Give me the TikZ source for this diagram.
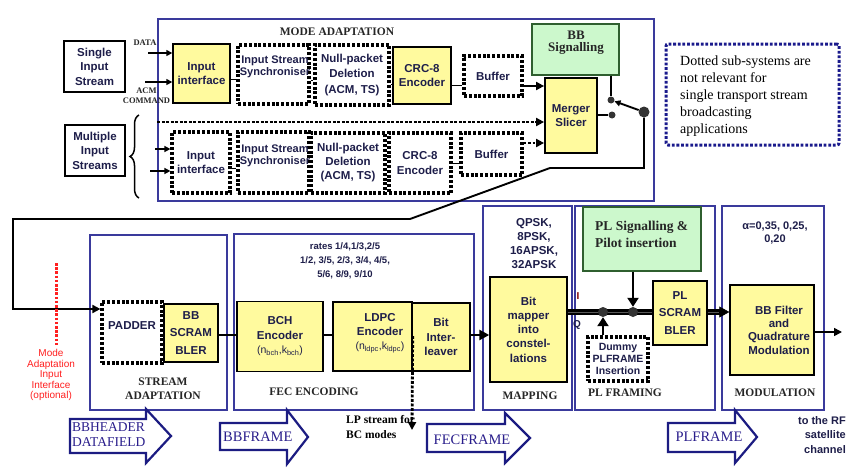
\documentclass[tikz,border=0pt]{standalone}
\usepackage{fontspec}
\setmainfont{Liberation Serif}
\setsansfont{Liberation Sans}
\usetikzlibrary{arrows.meta,decorations.pathreplacing,calc}
\definecolor{frameblue}{HTML}{3A3A9C}
\definecolor{arrblue}{HTML}{1C1C82}
\definecolor{arrtxt}{HTML}{2A1E8C}
\definecolor{boxyel}{HTML}{FFFA9E}
\definecolor{boxgrn}{HTML}{CCF8CC}
\definecolor{grnline}{HTML}{2F5F2F}
\definecolor{lbltxt}{HTML}{1E1E4A}
\definecolor{redtxt}{HTML}{FF2020}
\definecolor{notecol}{HTML}{1A1A8C}
\newcommand{\fsz}[2]{\fontsize{#1}{#2}\selectfont}
\tikzset{
 frm/.style={draw=frameblue, line width=1.2pt, rectangle, inner sep=0pt},
 sbox/.style={rectangle, inner sep=0pt, align=center, font=\sffamily\bfseries\fsz{11.5}{14.5}, text=lbltxt},
 ybox/.style={sbox, draw=black, line width=1.4pt, fill=boxyel},
 wbox/.style={sbox, draw=black, line width=1.6pt, fill=white},
 dbox/.style={sbox, draw=black, line width=3.2pt, dash pattern=on 3pt off 1.8pt},
 gbox/.style={rectangle, inner sep=0pt, draw=grnline, line width=1.4pt, fill=boxgrn},
 slbl/.style={inner sep=0pt, align=center, font=\sffamily\bfseries\fsz{11.5}{14.5}, text=lbltxt},
 ttl/.style={inner sep=0pt, align=center, font=\bfseries\fsz{11.5}{14}, text=black!85},
 conn/.style={line width=1.9pt},
 thinc/.style={line width=1pt},
 arrtip/.style={-{Triangle[length=8pt,width=8pt]}},
 smalltip/.style={-{Triangle[length=6pt,width=6pt]}},
 dotl/.style={line width=2.8pt, dash pattern=on 2.8pt off 1.7pt},
 dotc/.style={circle, fill=black!80, inner sep=0pt, minimum size=#1},
 iq/.style={line width=2.2pt, double=black!65, double distance=0.8pt},
 bigarr/.style={draw=arrblue, line width=2.2pt, fill=white, line join=miter},
 arrlbl/.style={inner sep=0pt, align=left, font=\fsz{14.5}{15}, text=arrtxt},
}
\begin{document}
\begin{tikzpicture}[x=1pt,y=-1pt]
\useasboundingbox (0,0) rectangle (865,474);
\fill[white] (0,0) rectangle (865,474);

% ---------------- MODE ADAPTATION ----------------
\node[frm, minimum width=496pt, minimum height=182pt] (ma) at (406,110) {};
\node[ttl] (matl) at (337,32) {MODE ADAPTATION};

\node[wbox, minimum width=61pt, minimum height=51pt] (sis) at (94.5,66.5) {Single\\Input\\Stream};
\node[wbox, minimum width=60pt, minimum height=51pt] (mis) at (95,150.5) {Multiple\\Input\\Streams};

\node[ybox, minimum width=57pt, minimum height=59pt] (ii1) at (201.5,73.5) {Input\\interface};
\node[dbox, minimum width=71pt, minimum height=59pt] (iss1) at (273.5,74.5) {};
\node[slbl, font=\sffamily\bfseries\fsz{11}{12.5}] (iss1t) at (275,67) {Input Stream\\Synchroniser};
\node[dbox, minimum width=74pt, minimum height=60pt, font=\sffamily\bfseries\fsz{11.5}{15.5}] (np1) at (352,75) {Null-packet\\Deletion\\(ACM, TS)};
\node[ybox, minimum width=58pt, minimum height=57pt] (crc1) at (422,75.5) {CRC-8\\Encoder};
\node[dbox, minimum width=58pt, minimum height=40pt] (buf1) at (493,76) {Buffer};
\node[gbox, minimum width=87pt, minimum height=51pt] (bbs) at (575.5,49.5) {};
\node[ttl, font=\bfseries\fsz{13}{12}] (bbst) at (576,43) {BB\\Signalling};
\node[ybox, line width=1.8pt, minimum width=52pt, minimum height=75pt] (ms) at (571,115.5) {Merger\\Slicer};

\node[dbox, minimum width=58pt, minimum height=61pt] (ii2) at (201,162.5) {Input\\interface};
\node[dbox, minimum width=71pt, minimum height=61pt] (iss2) at (273.5,162.5) {};
\node[slbl, font=\sffamily\bfseries\fsz{11}{12.5}] (iss2t) at (275,156) {Input Stream\\Synchroniser};
\node[dbox, minimum width=74pt, minimum height=60pt, font=\sffamily\bfseries\fsz{11.5}{14}] (np2) at (348,163) {Null-packet\\Deletion\\(ACM, TS)};
\node[dbox, minimum width=62pt, minimum height=60pt] (crc2) at (420,163) {CRC-8\\Encoder};
\node[dbox, minimum width=61pt, minimum height=42pt] (buf2) at (491.5,154) {Buffer};

% switch
\node[dotc=7pt] (c1) at (611,100) {};
\node[dotc=7pt] (c2) at (612,115) {};
\node[dotc=11pt] (piv) at (644,112) {};
\draw[conn] (bbs.south -| c1) -- (c1);
\draw[conn] (ms.east |- c2) -- (c2);
\draw[conn, smalltip] (piv) -- (c1);

% inputs
\coordinate (dat) at (148,53);
\coordinate (acm) at (145,82);
\draw[conn, smalltip] (dat) -- (ii1.west |- dat);
\draw[conn, smalltip] (acm) -- (ii1.west |- acm);
\node[ttl, font=\bfseries\fsz{8.5}{9.5}] (datal) at (145,43) {DATA};
\node[ttl, font=\bfseries\fsz{8.5}{10}] (acml) at (146.5,96) {ACM\\COMMAND};
\coordinate (m1) at (155,149);
\coordinate (m2) at (150,171);
\draw[conn, smalltip] (m1) -- (ii2.west |- m1);
\draw[conn, smalltip] (m2) -- (ii2.west |- m2);
\draw[decorate, decoration={brace, amplitude=9pt}, line width=1.5pt] (139,198) -- (139,115);

% internal links
\draw[thinc] (ii1.east |- 0,79) -- (iss1.west |- 0,79);
\draw[thinc] (iss1.east |- 0,80) -- (np1.west |- 0,80);
\draw[thinc] (np1.east |- 0,84) -- (crc1.west |- 0,84);
\draw[thinc] (crc1.east |- 0,85) -- (buf1.west |- 0,85);
\draw[conn, arrtip] (buf1.east |- 0,86) -- (ms.west |- 0,86);
\draw[dotl, arrtip] (ma.west |- 0,122) -- (ms.west |- 0,122);
\draw[dotl, arrtip] (buf2.east |- 0,143) -- (ms.west |- 0,143);
\draw[thinc] (ii2.east |- 0,168) -- (iss2.west |- 0,168);
\draw[thinc] (iss2.east |- 0,166) -- (np2.west |- 0,166);
\draw[thinc] (np2.east |- 0,165) -- (crc2.west |- 0,165);
\draw[thinc] (crc2.east |- 0,163) -- (buf2.west |- 0,163);

% note
\node[draw=notecol, line width=3pt, dash pattern=on 2.8pt off 1.8pt, rounded corners=2pt, minimum width=173pt, minimum height=101pt, inner sep=0pt] (note) at (752.5,94.5) {};
\node[inner sep=0pt, align=left, anchor=west, font=\fsz{14}{17}] (notet) at (680,96) {Dotted sub-systems are\\not relevant for\\single transport stream\\broadcasting\\applications};

% ---------------- LOWER CHAIN ----------------
\node[frm, minimum width=137pt, minimum height=175pt] (sa) at (158.5,322.5) {};
\node[frm, minimum width=240pt, minimum height=176pt] (fec) at (354,322) {};
\node[frm, minimum width=89pt, minimum height=204pt] (mapf) at (527.5,308) {};
\node[frm, minimum width=140pt, minimum height=204pt] (plf) at (645,308) {};
\node[frm, minimum width=102pt, minimum height=204pt] (modf) at (773,308) {};

\node[ttl] (sat) at (163,389) {STREAM\\ADAPTATION};
\node[ttl] (fect) at (314,392) {FEC ENCODING};
\node[ttl] (mapt) at (530,396) {MAPPING};
\node[ttl] (plft) at (625,393) {PL FRAMING};
\node[ttl] (modt) at (775,393) {MODULATION};

\node[dbox, minimum width=60pt, minimum height=61pt] (padder) at (132,332.5) {};
\node[slbl] (paddert) at (132,326) {PADDER};
\node[ybox, minimum width=54pt, minimum height=58pt, font=\sffamily\bfseries\fsz{11.5}{17.5}] (bbscr) at (191,333) {BB\\SCRAM\\BLER};
\node[ybox, minimum width=86pt, minimum height=70pt] (bch) at (280,336.5) {BCH\\Encoder\\{\mdseries\fsz{10.5}{14.5}(n\textsubscript{bch},k\textsubscript{bch})}};
\node[ybox, minimum width=79pt, minimum height=69pt] (ldpc) at (372.5,336.5) {};
\node[slbl, font=\sffamily\bfseries\fsz{11.5}{14}] (ldpct) at (380,333) {LDPC\\Encoder\\{\mdseries\fsz{10.5}{14}(n\textsubscript{ldpc},k\textsubscript{ldpc})}};
\node[ybox, minimum width=58pt, minimum height=68pt] (bi) at (441,337) {Bit\\Inter-\\leaver};
\node[ybox, minimum width=77pt, minimum height=105pt, font=\sffamily\bfseries\fsz{11.5}{14.25}] (bm) at (528.5,329.5) {Bit\\mapper\\into\\constel-\\lations};
\node[gbox, minimum width=118pt, minimum height=64pt] (pls) at (642,239) {};
\node[ttl, align=left, anchor=west, font=\bfseries\fsz{13.5}{17}] (plst) at (595,234.5) {PL Signalling \&\\Pilot insertion};
\node[ybox, minimum width=54pt, minimum height=64pt, font=\sffamily\bfseries\fsz{11.5}{17.5}] (plscr) at (680,313) {PL\\SCRAM\\BLER};
\node[dbox, minimum width=60pt, minimum height=44pt, font=\sffamily\bfseries\fsz{10.5}{12}] (dummy) at (618,359) {Dummy\\PLFRAME\\Insertion};
\node[ybox, minimum width=84pt, minimum height=90pt] (bbf) at (772,330) {};
\node[slbl, font=\sffamily\bfseries\fsz{11.5}{13.3}] (bbft) at (779,330) {BB Filter\\and\\Quadrature\\Modulation};

% labels
\node[slbl, font=\sffamily\bfseries\fsz{9.5}{14}] (rates) at (345,261) {rates 1/4,1/3,2/5\\1/2, 3/5, 2/3, 3/4, 4/5,\\5/6, 8/9, 9/10};
\node[slbl, font=\sffamily\bfseries\fsz{11.5}{13.7}] (qpsk) at (534,243.5) {QPSK,\\8PSK,\\16APSK,\\32APSK};
\node[slbl, font=\sffamily\bfseries\fsz{11}{12.5}] (alpha) at (775,233) {α=0,35, 0,25,\\0,20};
\node[inner sep=0pt, font=\sffamily\bfseries\fsz{10}{12}, text=red!50!black] (ilbl) at (578,296) {I};
\node[inner sep=0pt, font=\sffamily\bfseries\fsz{10}{12}, text=lbltxt] (qlbl) at (577,325) {Q};

% chain connectors
\draw[conn, line width=2.4pt] (bbscr.east |- 0,335) -- (bch.west |- 0,335);
\draw[conn, line width=2.4pt] (bch.east |- 0,335) -- (ldpc.west |- 0,335);
\draw[conn, line width=2.4pt, -{Triangle[length=10pt,width=10pt]}] (bi.east |- 0,335) -- (bm.west |- 0,335);
\coordinate (lp) at (412,430);
\draw[dotl, arrtip] (ldpc.east |- 0,336) -- (lp);
\draw[iq] (bm.east |- 0,312) -- (plscr.west |- 0,312);
\node[dotc=10pt] (d1) at (603,312) {};
\node[dotc=10pt] (d2) at (633,312) {};
\draw[line width=2.6pt, -{Triangle[length=9pt,width=11pt]}] (dummy.north -| d1) -- (d1);
\draw[line width=2.6pt, -{Triangle[length=9pt,width=11pt]}] (pls.south -| d2) -- (d2);
\draw[iq, shorten >=9pt] (plscr.east |- 0,312) -- (bbf.west |- 0,312);
\draw[line width=0.5pt, -{Triangle[length=10pt,width=11pt]}] ($(bbf.west |- 0,312)+(-10,0)$) -- (bbf.west |- 0,312);
\coordinate (out) at (842,332);
\draw[line width=1.6pt, arrtip] (bbf.east |- out) -- (out);

% feedback from switch to padder
\coordinate (f1) at (644,168);
\coordinate (f2) at (550,168);
\coordinate (f3) at (410,219);
\coordinate (f4) at (13,219);
\coordinate (f5) at (13,309);
\draw[conn, arrtip] (piv) -- (f1) -- (f2) -- (f3) -- (f4) -- (f5) -- (padder.west |- f5);

% red optional interface
\coordinate (r1) at (56,263);
\coordinate (r2) at (56,346);
\draw[redtxt, line width=3pt, dash pattern=on 2.6pt off 1.6pt] (r1) -- (r2);
\node[inner sep=0pt, align=center, font=\sffamily\fsz{10}{10.5}, text=redtxt] (redt) at (51,375) {Mode\\Adaptation\\Input\\Interface\\(optional)};

% LP stream / output text
\node[inner sep=0pt, anchor=west, align=left, font=\bfseries\fsz{11.5}{15}] (lpt) at (346,427.5) {LP stream for\\BC modes};
\node[inner sep=0pt, anchor=east, align=right, font=\sffamily\bfseries\fsz{11}{14.2}, text=lbltxt] (rft) at (846,435) {to the RF\\satellite\\channel};

% big frame arrows
\draw[bigarr] (70,419) -- (146,419) -- (146,409) -- (171,436) -- (146,463) -- (146,453) -- (70,453) -- cycle;
\node[arrlbl, anchor=west, font=\fsz{13.5}{15}] (bbhd) at (72,435) {BBHEADER\\DATAFIELD};
\draw[bigarr] (220,423) -- (287,423) -- (287,410) -- (308,437) -- (287,464) -- (287,450) -- (220,450) -- cycle;
\node[arrlbl, anchor=west] (bbfr) at (223,437) {BBFRAME};
\draw[bigarr] (427,424) -- (505,424) -- (505,413) -- (530,438) -- (505,463) -- (505,452) -- (427,452) -- cycle;
\node[arrlbl] (fecfr) at (472,440) {FECFRAME};
\draw[bigarr] (668,423) -- (735,423) -- (735,410) -- (757,437) -- (735,463) -- (735,452) -- (668,452) -- cycle;
\node[arrlbl] (plfr) at (709,437) {PLFRAME};
\end{tikzpicture}
\end{document}
